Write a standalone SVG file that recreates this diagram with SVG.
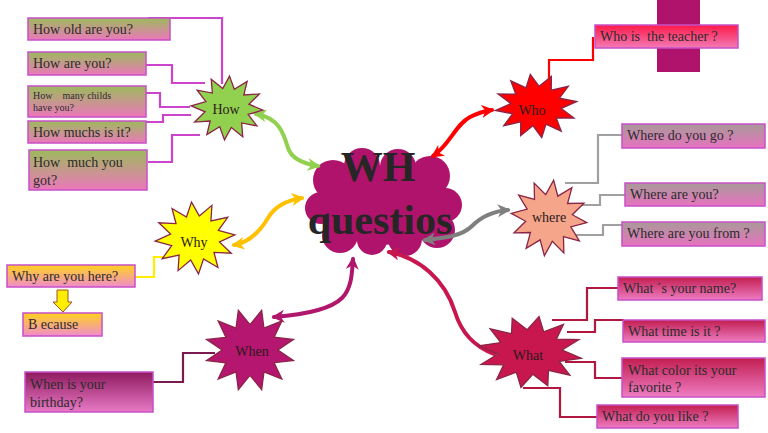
<svg xmlns="http://www.w3.org/2000/svg" xmlns:xlink="http://www.w3.org/1999/xlink" width="768" height="433" viewBox="0 0 768 433">
<style>
text{font-family:"Liberation Serif","Times New Roman",serif;fill:#2b2b2b;white-space:pre}
.bt{font-size:14px}
.sm{font-size:10px}
.lbl{font-size:14px;text-anchor:middle;fill:#2a1a1a}
.box{stroke:#c84fc8;stroke-width:1.5}
.st{stroke:#8a2545;stroke-width:1.3;vector-effect:non-scaling-stroke}
.ln{fill:none;stroke-width:2.2}
.arr{fill:none;stroke-width:4;stroke-linecap:round}
</style>
<defs>
<polygon id="star" points="1,0 0.599,0.161 0.866,0.5 0.438,0.438 0.5,0.866 0.161,0.599 0,1 -0.161,0.599 -0.5,0.866 -0.438,0.438 -0.866,0.5 -0.599,0.161 -1,0 -0.599,-0.161 -0.866,-0.5 -0.438,-0.438 -0.5,-0.866 -0.161,-0.599 0,-1 0.161,-0.599 0.5,-0.866 0.438,-0.438 0.866,-0.5 0.599,-0.161" style="vector-effect:non-scaling-stroke"/>
<linearGradient id="gGreen" x1="0" y1="0" x2="0" y2="1"><stop offset="0" stop-color="#9cba5c"/><stop offset="1" stop-color="#ec78bb"/></linearGradient>
<linearGradient id="gRed" x1="0" y1="0" x2="0" y2="1"><stop offset="0" stop-color="#ff1a48"/><stop offset="1" stop-color="#f27ab6"/></linearGradient>
<linearGradient id="gGray" x1="0" y1="0" x2="0" y2="1"><stop offset="0" stop-color="#a89a98"/><stop offset="1" stop-color="#e872c0"/></linearGradient>
<linearGradient id="gYel" x1="0" y1="0" x2="0" y2="1"><stop offset="0" stop-color="#ffd21c"/><stop offset="1" stop-color="#f08ccc"/></linearGradient>
<linearGradient id="gMag" x1="0" y1="0" x2="0" y2="1"><stop offset="0" stop-color="#8e1a5e"/><stop offset="1" stop-color="#e87ac6"/></linearGradient>
<linearGradient id="gCrim" x1="0" y1="0" x2="0" y2="1"><stop offset="0" stop-color="#c21e50"/><stop offset="1" stop-color="#ee7cc2"/></linearGradient>
<marker id="mGreen" viewBox="0 0 10 10" refX="8" refY="5" markerWidth="13" markerHeight="13" markerUnits="userSpaceOnUse" orient="auto-start-reverse"><path d="M0,0 L10,5 L0,10 L3,5 Z" fill="#92d050"/></marker>
<marker id="mRed" viewBox="0 0 10 10" refX="8" refY="5" markerWidth="13" markerHeight="13" markerUnits="userSpaceOnUse" orient="auto-start-reverse"><path d="M0,0 L10,5 L0,10 L3,5 Z" fill="#ff0000"/></marker>
<marker id="mOr" viewBox="0 0 10 10" refX="8" refY="5" markerWidth="13" markerHeight="13" markerUnits="userSpaceOnUse" orient="auto-start-reverse"><path d="M0,0 L10,5 L0,10 L3,5 Z" fill="#ffc000"/></marker>
<marker id="mGray" viewBox="0 0 10 10" refX="8" refY="5" markerWidth="13" markerHeight="13" markerUnits="userSpaceOnUse" orient="auto-start-reverse"><path d="M0,0 L10,5 L0,10 L3,5 Z" fill="#7f7f7f"/></marker>
<marker id="mMag" viewBox="0 0 10 10" refX="8" refY="5" markerWidth="13" markerHeight="13" markerUnits="userSpaceOnUse" orient="auto-start-reverse"><path d="M0,0 L10,5 L0,10 L3,5 Z" fill="#b0176c"/></marker>
<marker id="mCrim" viewBox="0 0 10 10" refX="8" refY="5" markerWidth="13" markerHeight="13" markerUnits="userSpaceOnUse" orient="auto-start-reverse"><path d="M0,0 L10,5 L0,10 L3,5 Z" fill="#c8174f"/></marker>
</defs>
<rect width="768" height="433" fill="#ffffff"/>

<g id="center">
  <g fill="#b0136b">
    <circle cx="333" cy="180" r="20"/>
    <circle cx="362" cy="166" r="18"/>
    <circle cx="398" cy="167" r="18"/>
    <circle cx="430" cy="176" r="20"/>
    <circle cx="445" cy="205" r="17"/>
    <circle cx="437" cy="230" r="18"/>
    <circle cx="405" cy="239" r="17"/>
    <circle cx="372" cy="240" r="15"/>
    <circle cx="340" cy="235" r="18"/>
    <circle cx="321" cy="208" r="16"/>
    <ellipse cx="383" cy="205" rx="60" ry="40"/>
  </g>
  <text x="378" y="181" text-anchor="middle" style="font-size:42px;font-weight:bold;fill:#262626">WH</text>
  <text x="380" y="234" text-anchor="middle" style="font-size:42px;font-weight:bold;fill:#262626">questios</text>
</g>

<g id="connectors">
  <polyline class="ln" stroke="#cc44cc" points="148,18 222,18 222,84"/>
  <polyline class="ln" stroke="#cc44cc" points="142,65 172,65 172,83 205,83"/>
  <polyline class="ln" stroke="#cc44cc" points="130,93 160,93 160,107 190,107"/>
  <polyline class="ln" stroke="#cc44cc" points="138,122 163,122 163,115 191,115"/>
  <polyline class="ln" stroke="#cc44cc" points="148,162 172,162 172,135 200,135"/>
  <polyline class="ln" stroke="#ff0000" points="593,37 593,60 549,60 549,84"/>
  <polyline class="ln" stroke="#a0a0a0" stroke-width="3" points="565,183 598,183 598,135 624,135"/>
  <polyline class="ln" stroke="#a0a0a0" stroke-width="3" points="570,205 600,205 600,195 626,195"/>
  <polyline class="ln" stroke="#a0a0a0" stroke-width="3" points="572,235 603,235 603,225 624,225"/>
  <polyline class="ln" stroke="#ffee00" stroke-width="2.5" points="135,277 154,277 154,257 166,257"/>
  <polyline class="ln" stroke="#7a1a50" stroke-width="3" points="153,382 183,382 183,353 215,353"/>
  <polyline class="ln" stroke="#b01840" points="552,320 587,320 587,288 619,288"/>
  <polyline class="ln" stroke="#b01840" points="567,332 595,332 595,320 624,320"/>
  <polyline class="ln" stroke="#b01840" points="565,362 595,362 595,378 623,378"/>
  <polyline class="ln" stroke="#b01840" points="523,388 560,388 560,417 598,417"/>
  <path class="arr" stroke="#92d050" d="M256,114 C280,118 284,135 288,148 C292,160 305,164 318,166" marker-start="url(#mGreen)" marker-end="url(#mGreen)"/>
  <path class="arr" stroke="#ff0000" d="M433,156 C450,145 455,125 470,117 C478,113 485,111 492,110" marker-start="url(#mRed)" marker-end="url(#mRed)"/>
  <path class="arr" stroke="#ffc000" d="M234,245 C252,242 262,228 268,218 C275,206 288,200 302,198" marker-start="url(#mOr)" marker-end="url(#mOr)"/>
  <path class="arr" stroke="#7f7f7f" d="M425,240 C445,238 462,236 472,226 C482,216 495,211 508,210" marker-start="url(#mGray)" marker-end="url(#mGray)"/>
  <path class="arr" stroke="#b0176c" d="M274,317 C300,315 330,310 342,298 C352,288 352,272 353,259" marker-start="url(#mMag)" marker-end="url(#mMag)"/>
  <path class="arr" stroke="#c8174f" d="M389,252 C420,258 445,280 455,312 C462,335 478,348 494,354" marker-start="url(#mCrim)"/>
</g>

<g id="how">
  <use xlink:href="#star" class="st" fill="#92d050" transform="translate(227,108) scale(36,32) rotate(4)"/>
  <text class="lbl" x="226" y="114">How</text>
</g>
<g id="how-old">
  <rect class="box" x="28" y="18" width="142" height="22" fill="url(#gGreen)"/>
  <text class="bt" x="33" y="34">How old are you?</text>
</g>
<g id="how-are">
  <rect class="box" x="28" y="52" width="118" height="23" fill="url(#gGreen)"/>
  <text class="bt" x="33" y="68">How are you?</text>
</g>
<g id="how-many">
  <rect class="box" x="28" y="86" width="118" height="31" fill="url(#gGreen)"/>
  <text class="sm" x="33" y="99">How    many childs</text>
  <text class="sm" x="33" y="111">have you?</text>
</g>
<g id="how-muchs">
  <rect class="box" x="28" y="121" width="118" height="22" fill="url(#gGreen)"/>
  <text class="bt" x="33" y="137">How muchs is it?</text>
</g>
<g id="how-much">
  <rect class="box" x="29" y="150" width="118" height="40" fill="url(#gGreen)"/>
  <text class="bt" x="33" y="167">How  much you</text>
  <text class="bt" x="33" y="185">got?</text>
</g>

<g id="who">
  <use xlink:href="#star" class="st" fill="#ff0000" transform="translate(536,106) scale(41,32) rotate(-8)"/>
  <text class="lbl" x="532" y="115">Who</text>
</g>
<g id="who-teacher">
  <rect x="657" y="0" width="43" height="72" fill="#b0136b"/>
  <rect class="box" x="595" y="25" width="143" height="23" fill="url(#gRed)"/>
  <text class="bt" x="600" y="41">Who is  the teacher ?</text>
</g>

<g id="where">
  <use xlink:href="#star" class="st" fill="#f4a58a" transform="translate(549,218) scale(38,38) rotate(7)"/>
  <text class="lbl" x="549" y="222">where</text>
</g>
<g id="where-go">
  <rect class="box" x="622" y="124" width="143" height="24" fill="url(#gGray)"/>
  <text class="bt" x="627" y="140">Where do you go ?</text>
</g>
<g id="where-are">
  <rect class="box" x="625" y="183" width="140" height="23" fill="url(#gGray)"/>
  <text class="bt" x="630" y="199">Where are you?</text>
</g>
<g id="where-from">
  <rect class="box" x="622" y="222" width="143" height="24" fill="url(#gGray)"/>
  <text class="bt" x="627" y="238">Where are you from ?</text>
</g>

<g id="why">
  <use xlink:href="#star" class="st" fill="#ffff00" transform="translate(195,238) scale(40,36) rotate(-5)"/>
  <text class="lbl" x="194" y="247">Why</text>
</g>
<g id="why-here">
  <rect class="box" x="7" y="265" width="128" height="22" fill="url(#gYel)"/>
  <text class="bt" x="12" y="281">Why are you here?</text>
  <polygon points="57,290 68,290 68,302 72,302 63,312 53,302 57,302" fill="#ffee00" stroke="#a0522d" stroke-width="1"/>
</g>
<g id="because">
  <rect class="box" x="23" y="313" width="79" height="23" fill="url(#gYel)"/>
  <text class="bt" x="28" y="329">B ecause</text>
</g>

<g id="when">
  <use xlink:href="#star" class="st" fill="#b5166f" transform="translate(250,350) scale(45,41) rotate(-15)"/>
  <text class="lbl" x="252" y="356">When</text>
</g>
<g id="when-birthday">
  <rect class="box" x="25" y="372" width="128" height="40" fill="url(#gMag)"/>
  <text class="bt" x="30" y="389">When is your</text>
  <text class="bt" x="30" y="407">birthday?</text>
</g>

<g id="what">
  <use xlink:href="#star" class="st" fill="#c8174f" transform="translate(530,352) scale(52,36) rotate(10)"/>
  <text class="lbl" x="528" y="360">What</text>
</g>
<g id="what-name">
  <rect class="box" x="618" y="277" width="144" height="23" fill="url(#gCrim)"/>
  <text class="bt" x="623" y="293">What ´s your name?</text>
</g>
<g id="what-time">
  <rect class="box" x="623" y="320" width="142" height="22" fill="url(#gCrim)"/>
  <text class="bt" x="628" y="336">What time is it ?</text>
</g>
<g id="what-color">
  <rect class="box" x="622" y="358" width="143" height="39" fill="url(#gCrim)"/>
  <text class="bt" x="628" y="375">What color its your</text>
  <text class="bt" x="628" y="392">favorite ?</text>
</g>
<g id="what-like">
  <rect class="box" x="597" y="405" width="141" height="23" fill="url(#gCrim)"/>
  <text class="bt" x="602" y="421">What do you like ?</text>
</g>
</svg>
